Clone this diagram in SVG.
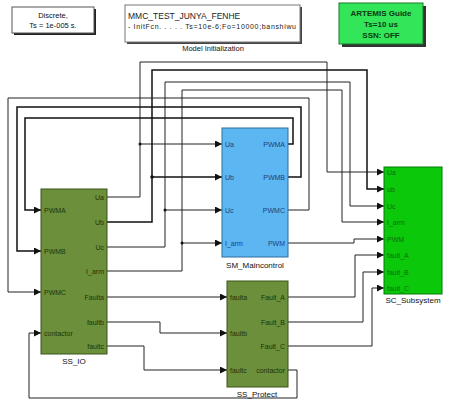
<svg xmlns="http://www.w3.org/2000/svg" width="474" height="402" viewBox="0 0 474 402">
<style>
text{font-family:"Liberation Sans",Arial,sans-serif;}
.w{fill:none;stroke:#222;stroke-width:1;}
.wt{fill:none;stroke:#111;stroke-width:1.5;}
.a{marker-end:url(#arr);}
.io{fill:#6b8f3b;stroke:#3b551c;stroke-width:1;}
.sm{fill:#5cb6f2;stroke:#2f6f9f;stroke-width:1;}
.sc{fill:#0bc80b;stroke:#087a08;stroke-width:1;}
.pg{font-size:7px;fill:#1e3508;}
.pb{font-size:7px;fill:#1c3f7a;}
.pc{font-size:7px;fill:#0b6e0b;}
.lbl{font-size:8px;fill:#111;text-anchor:middle;}
.r{text-anchor:end;}
.dot{fill:#111;}
</style>
<defs>
<marker id="arr" markerUnits="userSpaceOnUse" markerWidth="7" markerHeight="7" refX="7" refY="3.5" orient="auto">
<path d="M0,0 L7,3.5 L0,7 z" fill="#111"/>
</marker>
</defs>
<rect width="474" height="402" fill="#fff"/>

<g id="discrete">
<rect x="14" y="9" width="82" height="26" fill="#222"/>
<rect x="12" y="7" width="82" height="26" fill="#fff" stroke="#555" stroke-width="1"/>
<text x="53" y="18" class="lbl" style="font-size:7.5px">Discrete,</text>
<text x="53" y="28" class="lbl" style="font-size:7.5px">Ts = 1e-005 s.</text>
</g>

<g id="model_init">
<rect x="127" y="7" width="175" height="37" fill="#444"/>
<rect x="125" y="5" width="175" height="37" fill="#fff" stroke="#777" stroke-width="1"/>
<text x="128" y="19" style="font-size:8.5px" fill="#222">MMC_TEST_JUNYA_FENHE</text>
<text x="128" y="29" style="font-size:7px" fill="#222" textLength="168" lengthAdjust="spacing">- InitFcn. . . . . Ts=10e-6;Fo=10000;banshiwu</text>
<text x="213" y="51" class="lbl" style="font-size:7.5px">Model Initialization</text>
</g>

<g id="artemis">
<rect x="342" y="6" width="84" height="41" fill="#333"/>
<rect x="339" y="3" width="84" height="41" fill="#33e659" stroke="#1a7a2a" stroke-width="1"/>
<text x="381" y="16" class="lbl" style="font-size:8px;font-weight:bold;fill:#0f3a12">ARTEMIS Guide</text>
<text x="381" y="27" class="lbl" style="font-size:8px;font-weight:bold;fill:#0f3a12">Ts=10 us</text>
<text x="381" y="38" class="lbl" style="font-size:8px;font-weight:bold;fill:#0f3a12">SSN: OFF</text>
</g>

<g id="connectors">
<polyline class="w a" points="107,197 140,197 140,62 327,62 327,172 384,172"/>
<polyline class="w a" points="140,144 222,144"/>
<polyline class="wt a" points="107,222 152,222 152,70 367,70 367,189 384,189"/>
<polyline class="wt a" points="152,177 222,177"/>
<polyline class="w a" points="107,247 165,247 165,82 350,82 350,206 384,206"/>
<polyline class="w a" points="165,210 222,210"/>
<polyline class="w a" points="107,271 182,271 182,90 342,90 342,222 384,222"/>
<polyline class="w a" points="182,243 222,243"/>
<circle class="dot" cx="140" cy="144" r="1.5"/>
<circle class="dot" cx="152" cy="177" r="1.8"/>
<circle class="dot" cx="165" cy="210" r="1.5"/>
<circle class="dot" cx="182" cy="243" r="1.5"/>
<polyline class="wt a" points="288,144 293,144 293,118 25,118 25,210 41,210"/>
<polyline class="wt a" points="288,177 301,177 301,107 17,107 17,251 41,251"/>
<polyline class="w a" points="288,210 309,210 309,98 8,98 8,292 41,292"/>
<polyline class="w a" points="288,243 354,243 354,239 384,239"/>
<polyline class="w a" points="107,297 227,297"/>
<polyline class="w a" points="107,322 160,322 160,333 227,333"/>
<polyline class="w a" points="107,346 144,346 144,370 227,370"/>
<polyline class="w a" points="288,297 355,297 355,255 384,255"/>
<polyline class="w a" points="288,322 363,322 363,272 384,272"/>
<polyline class="w a" points="288,346 372,346 372,288 384,288"/>
<polyline class="w a" points="288,370 297,370 297,398 29,398 29,333 41,333"/>
</g>

<g id="ss_io">
<rect class="io" x="41" y="189" width="66" height="165"/>
<text class="pg" x="44" y="212.5">PWMA</text>
<text class="pg" x="44" y="253.5">PWMB</text>
<text class="pg" x="44" y="294.5">PWMC</text>
<text class="pg" x="44" y="335.5">contactor</text>
<text class="pg r" x="104" y="199.5">Ua</text>
<text class="pg r" x="104" y="224.5">Ub</text>
<text class="pg r" x="104" y="249.5">Uc</text>
<text class="pg r" x="104" y="273.5">I_arm</text>
<text class="pg r" x="104" y="299.5">Faulta</text>
<text class="pg r" x="104" y="324.5">faultb</text>
<text class="pg r" x="104" y="348.5">faultc</text>
<text class="lbl" x="74" y="364">SS_IO</text>
</g>

<g id="sm_maincontrol">
<rect class="sm" x="222" y="128" width="66" height="129"/>
<text class="pb" x="225" y="146.5">Ua</text>
<text class="pb" x="225" y="179.5">Ub</text>
<text class="pb" x="225" y="212.5">Uc</text>
<text class="pb" x="225" y="245.5">I_arm</text>
<text class="pb r" x="285" y="146.5">PWMA</text>
<text class="pb r" x="285" y="179.5">PWMB</text>
<text class="pb r" x="285" y="212.5">PWMC</text>
<text class="pb r" x="285" y="245.5">PWM</text>
<text class="lbl" x="255" y="268">SM_Maincontrol</text>
</g>

<g id="ss_protect">
<rect class="io" x="227" y="281" width="61" height="106"/>
<text class="pg" x="230" y="299.5">faulta</text>
<text class="pg" x="230" y="335.5">faultb</text>
<text class="pg" x="230" y="372.5">faultc</text>
<text class="pg r" x="285" y="299.5">Fault_A</text>
<text class="pg r" x="285" y="324.5">Fault_B</text>
<text class="pg r" x="285" y="348.5">Fault_C</text>
<text class="pg r" x="285" y="372.5">contactor</text>
<text class="lbl" x="257" y="397">SS_Protect</text>
</g>

<g id="sc_subsystem">
<rect class="sc" x="384" y="167" width="58" height="127"/>
<text class="pc" x="387" y="174.5">Ua</text>
<text class="pc" x="387" y="191.5">ub</text>
<text class="pc" x="387" y="208.5">Uc</text>
<text class="pc" x="387" y="224.5">I_arm</text>
<text class="pc" x="387" y="241.5">PWM</text>
<text class="pc" x="387" y="257.5">fault_A</text>
<text class="pc" x="387" y="274.5">fault_B</text>
<text class="pc" x="387" y="290.5">fault_C</text>
<text class="lbl" x="413" y="303">SC_Subsystem</text>
</g>
</svg>
